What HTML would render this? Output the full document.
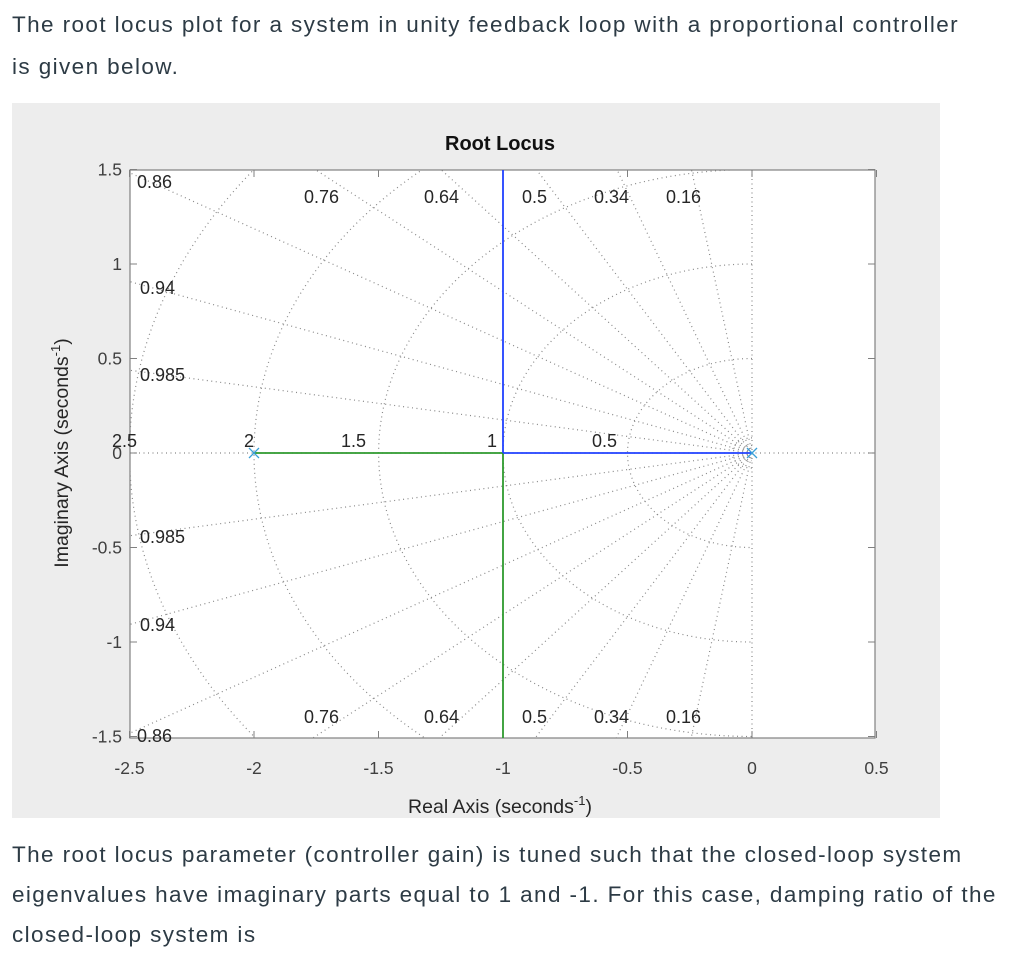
<!DOCTYPE html>
<html style="overflow:hidden;height:969px"><head><meta charset="utf-8"><style>
html,body{margin:0;padding:0}
body{width:1024px;height:969px;background:#fff;position:relative;overflow:hidden;font-family:"Liberation Sans",sans-serif;color:#2d3b45}
.p{position:absolute;left:12px;font-size:22.5px;letter-spacing:1.4px;white-space:nowrap;line-height:26px}
svg{display:block}
</style></head><body>
<div class="p" style="top:12px">The root locus plot for a system in unity feedback loop with a proportional controller</div>
<div class="p" style="top:54px">is given below.</div>
<svg id="s" style="position:absolute;left:0;top:0" width="1024" height="960" font-family="Liberation Sans, sans-serif"></svg>
<div class="p" style="top:842px">The root locus parameter (controller gain) is tuned such that the closed-loop system</div>
<div class="p" style="top:882px">eigenvalues have imaginary parts equal to 1 and -1. For this case, damping ratio of the</div>
<div class="p" style="top:922px">closed-loop system is</div>
<script>
const L=130,T=170,R=875,B=738,X0=752,Y0=453,SX=249,SY=189;
const X=x=>X0+x*SX,Y=y=>Y0-y*SY;
let h='<rect x="12" y="103" width="928" height="715" fill="#ededed"/>';
h+=`<rect x="${L}" y="${T}" width="${R-L}" height="${B-T}" fill="#fff"/>`;
h+=`<defs><clipPath id="c"><rect x="${L}" y="${T}" width="${R-L}" height="${B-T}"/></clipPath></defs><g clip-path="url(#c)" stroke="#888" stroke-width="1.2" stroke-dasharray="1 3.5" fill="none">`;
const z=[0.16,0.34,0.5,0.64,0.76,0.86,0.94,0.985];
for(const q of z){const s=Math.sqrt(1-q*q);
 h+=`<line x1="${X0}" y1="${Y0}" x2="${X(-q*4)}" y2="${Y(s*4)}"/><line x1="${X0}" y1="${Y0}" x2="${X(-q*4)}" y2="${Y(-s*4)}"/>`;}
const w=[0.5,1,1.5,2,2.5,0.08,0.04];
for(const r of w){h+=`<path d="M${X(0)} ${Y(r)} A${r*SX} ${r*SY} 0 0 0 ${X(0)} ${Y(-r)}"/>`;}
h+=`<line x1="${X0}" y1="${T}" x2="${X0}" y2="${B}"/><line x1="${L}" y1="${Y0}" x2="${R}" y2="${Y0}"/></g>`;
h+=`<rect x="${L}" y="${T}" width="${R-L}" height="${B-T}" fill="none" stroke="#808080" stroke-width="1.2"/>`;
for(let i=0;i<7;i++){const x=X(-2.5+i*0.5);h+=`<line x1="${x}" y1="${T}" x2="${x}" y2="${T+7}" stroke="#808080"/><line x1="${x}" y1="${B}" x2="${x}" y2="${B-7}" stroke="#808080"/>`;
 h+=`<text x="${x}" y="${B+36}" font-size="17.5" fill="#404040" text-anchor="middle">${[-2.5,-2,-1.5,-1,-0.5,0,0.5][i]}</text>`;}
for(let i=0;i<7;i++){const v=1.5-i*0.5,y=Y(v);h+=`<line x1="${L}" y1="${y}" x2="${L+7}" y2="${y}" stroke="#808080"/><line x1="${R}" y1="${y}" x2="${R-7}" y2="${y}" stroke="#808080"/>`;
 h+=`<text x="${L-8}" y="${y+6}" font-size="17.5" fill="#404040" text-anchor="end">${v}</text>`;}
h+=`<line x1="${X(-2)}" y1="${Y0}" x2="${X(-1)}" y2="${Y0}" stroke="#2e9a2e" stroke-width="1.8"/>`;
h+=`<line x1="${X(-1)}" y1="${Y0}" x2="${X(-1)}" y2="${B}" stroke="#2e9a2e" stroke-width="1.8"/>`;
h+=`<line x1="${X(0)}" y1="${Y0}" x2="${X(-1)}" y2="${Y0}" stroke="#2040ff" stroke-width="1.8"/>`;
h+=`<line x1="${X(-1)}" y1="${Y0}" x2="${X(-1)}" y2="${T}" stroke="#2040ff" stroke-width="1.8"/>`;
for(const px of [X(-2),X(0)])h+=`<path d="M${px-5} ${Y0-5}L${px+5} ${Y0+5}M${px-5} ${Y0+5}L${px+5} ${Y0-5}" stroke="#3aa0d8" stroke-width="1.3"/>`;
const t=(x,y,s,a='start')=>h+=`<text x="${x}" y="${y}" font-size="18" fill="#262626" text-anchor="${a}">${s}</text>`;
t(137,188,'0.86');t(304,203,'0.76');t(424,203,'0.64');t(522,203,'0.5');t(594,203,'0.34');t(666,203,'0.16');
t(140,294,'0.94');t(140,381,'0.985');t(140,543,'0.985');t(140,631,'0.94');t(137,742,'0.86');
t(304,723,'0.76');t(424,723,'0.64');t(522,723,'0.5');t(594,723,'0.34');t(666,723,'0.16');
t(112,447,'2.5');t(244,447,'2');t(341,447,'1.5');t(487,447,'1');t(592,447,'0.5');
h+=`<text x="500" y="150" font-size="20" font-weight="bold" fill="#111" text-anchor="middle">Root Locus</text>`;
h+=`<text x="500" y="813" font-size="19.5" fill="#262626" text-anchor="middle">Real Axis (seconds<tspan dy="-8" font-size="13">-1</tspan><tspan dy="8">)</tspan></text>`;
h+=`<text transform="translate(68,453) rotate(-90)" font-size="19.5" fill="#262626" text-anchor="middle">Imaginary Axis (seconds<tspan dy="-8" font-size="13">-1</tspan><tspan dy="8">)</tspan></text>`;
document.getElementById('s').innerHTML=h;
</script>
</body></html>
